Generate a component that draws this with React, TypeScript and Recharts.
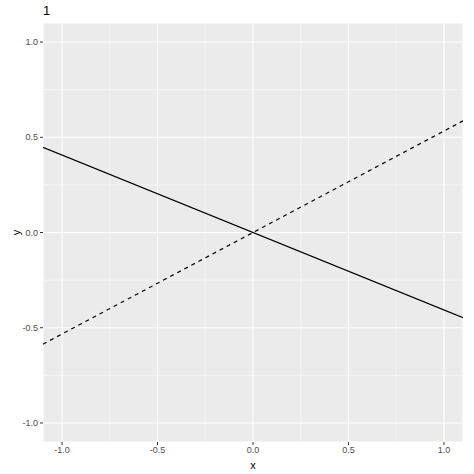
import { LineChart, Line, XAxis, YAxis, CartesianGrid, ReferenceLine, Label } from 'recharts';

// x positions where the two lines are sampled (panel edges)
const xValues = [-1.1, 1.1];
const solidValues = [0.447, -0.447];
const dashedValues = [-0.586, 0.586];

const majorTicks = [-1, -0.5, 0, 0.5, 1];
const minorTicks = [-0.75, -0.25, 0.25, 0.75];

const data = xValues.map((x, i) => ({ x, solid: solidValues[i], dashed: dashedValues[i] }));

const font = '"Liberation Sans", Arial, sans-serif';
const tickStyle = { fill: '#4D4D4D', fontSize: 9, fontFamily: font };
const fmt = (v: number) => v.toFixed(1);

export default function App() {
  return (
    <div style={{ position: 'absolute', left: 0, top: 0, width: 474, height: 474, background: '#fff' }}>
      <div style={{ position: 'absolute', left: 43, top: 3, fontFamily: font, fontSize: 13, color: '#000' }}>1</div>
      <LineChart width={474} height={474} data={data} margin={{ top: 23, right: 11, bottom: 0, left: 0 }}>
        <CartesianGrid fill="#EBEBEB" fillOpacity={1} stroke="#FFFFFF" strokeWidth={1.1} />
        {minorTicks.map(v => (
          <ReferenceLine key={`mx${v}`} x={v} stroke="#FFFFFF" strokeWidth={0.5} />
        ))}
        {minorTicks.map(v => (
          <ReferenceLine key={`my${v}`} y={v} stroke="#FFFFFF" strokeWidth={0.5} />
        ))}
        <XAxis
          dataKey="x"
          type="number"
          domain={[-1.1, 1.1]}
          ticks={majorTicks}
          tickFormatter={fmt}
          allowDataOverflow
          height={32}
          axisLine={false}
          tickSize={3}
          tickMargin={2}
          tickLine={{ stroke: '#333333' }}
          tick={tickStyle}
        >
          <Label value="x" position="insideBottom" offset={5} style={{ fill: '#000', fontSize: 11, fontFamily: font }} />
        </XAxis>
        <YAxis
          type="number"
          domain={[-1.1, 1.1]}
          ticks={majorTicks}
          tickFormatter={fmt}
          allowDataOverflow
          width={43}
          axisLine={false}
          tickSize={3}
          tickMargin={2}
          tickLine={{ stroke: '#333333' }}
          tick={tickStyle}
        >
          <Label value="y" angle={-90} position="insideLeft" offset={16} style={{ fill: '#000', fontSize: 11, fontFamily: font, textAnchor: 'middle' }} />
        </YAxis>
        <Line dataKey="solid" stroke="#000000" strokeWidth={1.2} dot={false} isAnimationActive={false} />
        <Line dataKey="dashed" stroke="#000000" strokeWidth={1.2} strokeDasharray="4 4" dot={false} isAnimationActive={false} />
      </LineChart>
    </div>
  );
}
